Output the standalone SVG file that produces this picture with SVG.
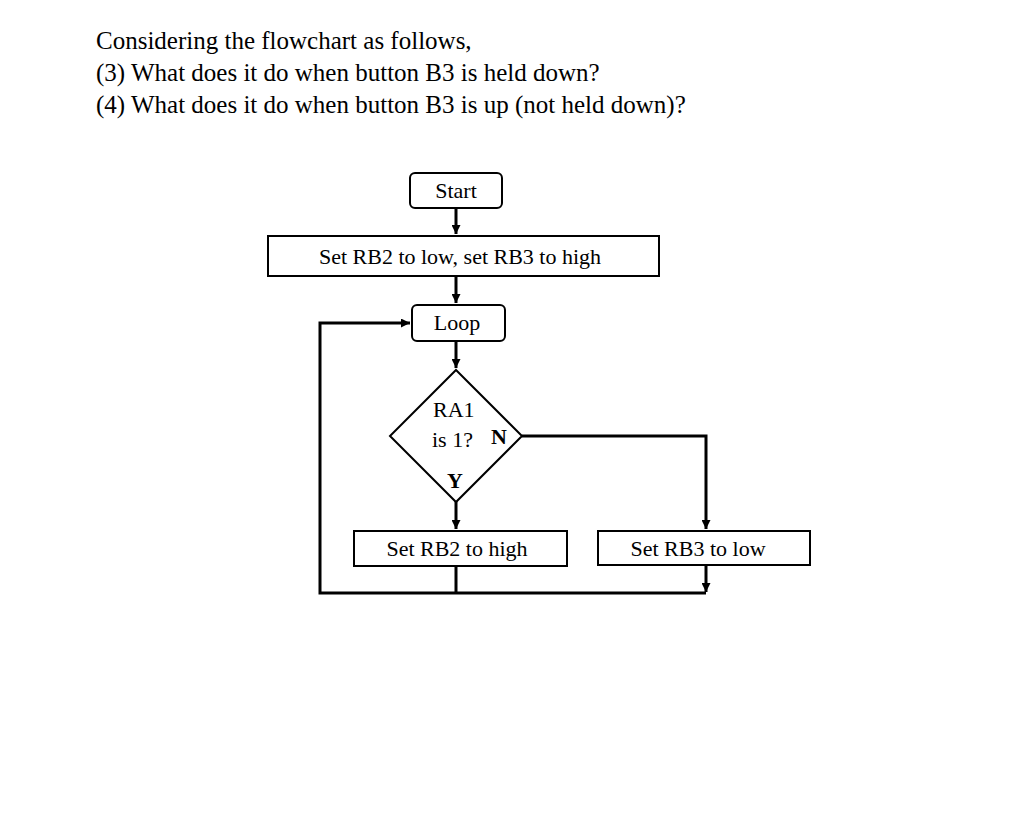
<svg xmlns="http://www.w3.org/2000/svg" width="1024" height="814" viewBox="0 0 1024 814">
<style>
text{font-family:"Liberation Serif",serif;fill:#000}
.q{font-size:25px}
.t{font-size:22px}
.b{fill:#fff;stroke:#000;stroke-width:2}
.c{fill:none;stroke:#000;stroke-width:3}
</style>
<defs><marker id="a" viewBox="0 0 10 10" refX="10" refY="5" markerWidth="3" markerHeight="3" orient="auto"><path d="M0,0L10,5L0,10z"/></marker></defs>
<rect width="1024" height="814" fill="#fff"/>
<text class="q" x="96" y="49">Considering the flowchart as follows,</text>
<text class="q" x="96" y="81">(3) What does it do when button B3 is held down?</text>
<text class="q" x="96" y="113">(4) What does it do when button B3 is up (not held down)?</text>
<g id="connectors">
<path class="c" d="M456,208V234" marker-end="url(#a)"/>
<path class="c" d="M456,276V303" marker-end="url(#a)"/>
<path class="c" d="M456,341V368" marker-end="url(#a)"/>
<path class="c" d="M456,500V529" marker-end="url(#a)"/>
<path class="c" d="M522,436H706V529" marker-end="url(#a)"/>
<path class="c" d="M706,565V592" marker-end="url(#a)"/>
<path class="c" d="M456,566V593M706,593H320V323H410" marker-end="url(#a)"/>
</g>
<g id="start"><rect class="b" x="410" y="173" width="92" height="35" rx="5"/><text class="t" x="456" y="198" text-anchor="middle">Start</text></g>
<g id="init"><rect class="b" x="268" y="236" width="391" height="40"/><text class="t" x="460" y="264" text-anchor="middle">Set RB2 to low, set RB3 to high</text></g>
<g id="loop"><rect class="b" x="412" y="305" width="93" height="36" rx="5"/><text class="t" x="457" y="330" text-anchor="middle">Loop</text></g>
<g id="dec"><path class="b" d="M456,370L522,436L456,502L390,436z"/><text class="t" x="433" y="417">RA1</text><text class="t" x="432" y="447">is 1?</text><text class="t" x="491" y="444" font-weight="bold">N</text><text class="t" x="447" y="488" font-weight="bold">Y</text></g>
<g id="rb2"><rect class="b" x="354" y="531" width="213" height="35"/><text class="t" x="457" y="556" text-anchor="middle">Set RB2 to high</text></g>
<g id="rb3"><rect class="b" x="598" y="531" width="212" height="34"/><text class="t" x="698" y="556" text-anchor="middle">Set RB3 to low</text></g>
</svg>
